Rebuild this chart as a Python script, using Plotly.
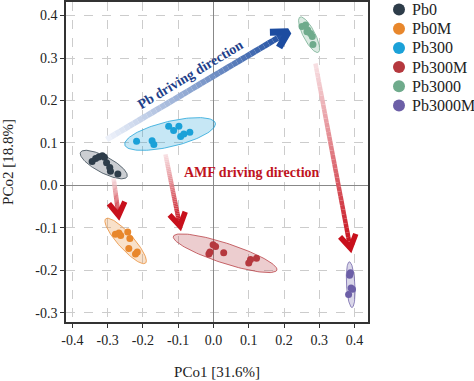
import numpy as np
import plotly.graph_objects as go

groups = ["Pb0", "Pb0M", "Pb300", "Pb300M", "Pb3000", "Pb3000M"]
colors = ["#2e3d4a", "#e8872c", "#1ba1d8", "#b5383e", "#6fab8c", "#6c5fa7"]

pb0_x = [-0.344, -0.334, -0.325, -0.315, -0.309, -0.303, -0.294, -0.292, -0.271]
pb0_y = [0.056, 0.063, 0.067, 0.070, 0.066, 0.053, 0.042, 0.033, 0.027]
pb0m_x = [-0.278, -0.268, -0.263, -0.243, -0.237, -0.240, -0.221, -0.216]
pb0m_y = [-0.115, -0.112, -0.118, -0.110, -0.125, -0.149, -0.162, -0.157]
pb300_x = [-0.218, -0.174, -0.169, -0.127, -0.113, -0.098, -0.093, -0.084, -0.067]
pb300_y = [0.104, 0.105, 0.096, 0.139, 0.129, 0.139, 0.115, 0.121, 0.125]
pb300m_x = [-0.001, 0.006, -0.010, -0.013, 0.029, 0.100, 0.105, 0.122]
pb300m_y = [-0.140, -0.144, -0.157, -0.162, -0.159, -0.183, -0.175, -0.172]
pb3000_x = [0.251, 0.261, 0.267, 0.275, 0.280, 0.282, 0.265]
pb3000_y = [0.374, 0.378, 0.366, 0.358, 0.351, 0.332, 0.362]
pb3000m_x = [0.388, 0.386, 0.390, 0.394, 0.383]
pb3000m_y = [-0.206, -0.212, -0.242, -0.245, -0.257]

xs = [pb0_x, pb0m_x, pb300_x, pb300m_x, pb3000_x, pb3000m_x]
ys = [pb0_y, pb0m_y, pb300_y, pb300m_y, pb3000_y, pb3000m_y]

# ellipse: centre x, centre y, semi-major, semi-minor, angle (deg, data space)
ell_cx = [-0.311, -0.249, -0.123, 0.033, 0.271, 0.389]
ell_cy = [0.049, -0.131, 0.121, -0.160, 0.355, -0.234]
ell_a = [0.072, 0.077, 0.131, 0.152, 0.049, 0.054]
ell_b = [0.020, 0.020, 0.030, 0.024, 0.016, 0.012]
ell_ang = [-23, -42, 11, -15, -57, -86]

# arrows: start x, start y, end x, end y
pb_arrow = [-0.303, 0.108, 0.212, 0.362]
amf_arrows = [
    [-0.283, 0.016, -0.269, -0.071],
    [-0.136, 0.073, -0.095, -0.096],
    [0.289, 0.287, 0.388, -0.148],
]

x_ticks = [-0.4, -0.3, -0.2, -0.1, 0.0, 0.1, 0.2, 0.3, 0.4]
x_ticktext = ["-0.4", "-0.3", "-0.2", "-0.1", "0.0", "0.1", "0.2", "0.3", "0.4"]
y_ticks = [-0.3, -0.2, -0.1, 0.0, 0.1, 0.2, 0.3, 0.4]
y_ticktext = ["-0.3", "-0.2", "-0.1", "0.0", "0.1", "0.2", "0.3", "0.4"]

XR = [-0.418, 0.438]
YR = [-0.322, 0.432]
W, H = 474, 381
ML, MR, MT, MB = 66, 106, 2, 59
PW, PH = W - ML - MR, H - MT - MB
SX = PW / (XR[1] - XR[0])
SY = PH / (YR[1] - YR[0])

FONT = "Liberation Serif"


def hex_rgb(h):
    h = h.lstrip("#")
    return tuple(int(h[i:i + 2], 16) for i in (0, 2, 4))


fig = go.Figure()

# ellipses
t = np.linspace(0, 2 * np.pi, 120)
for i, g in enumerate(groups):
    r, gg, b = hex_rgb(colors[i])
    th = np.deg2rad(ell_ang[i])
    ex = ell_cx[i] + ell_a[i] * np.cos(t) * np.cos(th) - ell_b[i] * np.sin(t) * np.sin(th)
    ey = ell_cy[i] + ell_a[i] * np.cos(t) * np.sin(th) + ell_b[i] * np.sin(t) * np.cos(th)
    fig.add_trace(go.Scatter(x=ex, y=ey, mode="lines", fill="toself",
                             fillcolor=f"rgba({r},{gg},{b},0.25)",
                             line=dict(color=f"rgba({r},{gg},{b},0.75)", width=1),
                             showlegend=False, hoverinfo="skip"))


def gradient_arrow(x0, y0, x1, y1, c0, c1, width, head_len, head_w):
    dxp = (x1 - x0) * SX
    dyp = (y1 - y0) * SY
    L = np.hypot(dxp, dyp)
    ux, uy = dxp / L, dyp / L
    n = 40
    fr = np.linspace(0, 1 - 2 / L, n + 1)
    for k in range(n):
        f = (k + 0.5) / n
        col = tuple(int(c0[j] + (c1[j] - c0[j]) * f) for j in range(3))
        fig.add_trace(go.Scatter(
            x=[x0 + (x1 - x0) * fr[k], x0 + (x1 - x0) * fr[k + 1]],
            y=[y0 + (y1 - y0) * fr[k], y0 + (y1 - y0) * fr[k + 1]],
            mode="lines", line=dict(color=f"rgb{col}", width=width),
            showlegend=False, hoverinfo="skip"))
    px, py = -uy, ux
    bx = -ux * head_len
    by = -uy * head_len
    a1 = (bx + px * head_w, by + py * head_w)
    a2 = (bx - px * head_w, by - py * head_w)
    hx = [x1 + a1[0] / SX, x1, x1 + a2[0] / SX]
    hy = [y1 + a1[1] / SY, y1, y1 + a2[1] / SY]
    col = f"rgb{tuple(c1)}"
    fig.add_trace(go.Scatter(x=hx, y=hy, mode="lines",
                             line=dict(color=col, width=width + 1),
                             showlegend=False, hoverinfo="skip"))


gradient_arrow(*pb_arrow, (240, 244, 252), (28, 76, 160), 6, 16, 9)
for a in amf_arrows:
    gradient_arrow(*a, (248, 225, 228), (200, 16, 28), 4.5, 13, 8)

# points
for i, g in enumerate(groups):
    fig.add_trace(go.Scatter(x=xs[i], y=ys[i], mode="markers", name=g,
                             marker=dict(color=colors[i], size=7), showlegend=False))

fig.add_annotation(x=-0.065, y=0.262, text="<b>Pb driving direction</b>",
                   showarrow=False, textangle=-31,
                   font=dict(family=FONT, size=14, color="#1f3f8a"))
fig.add_annotation(x=0.108, y=0.031, text="<b>AMF driving direction</b>",
                   showarrow=False,
                   font=dict(family=FONT, size=14, color="#c0141e"))

# manual legend (pixel layout in the right margin)
LEG_MX, LEG_TX, LEG_Y0, LEG_DY = 399, 410, 9.5, 19.2
for i, g in enumerate(groups):
    cyp = LEG_Y0 + i * LEG_DY
    xp = (LEG_MX - ML) / PW
    yp = 1 - (cyp - MT) / PH
    fig.add_shape(type="circle", xref="paper", yref="paper",
                  xsizemode="pixel", ysizemode="pixel",
                  xanchor=xp, yanchor=yp, x0=-6, x1=6, y0=-6, y1=6,
                  fillcolor=colors[i], line=dict(width=0))
    fig.add_annotation(xref="paper", yref="paper", x=(LEG_TX - ML) / PW, y=yp,
                       xanchor="left", yanchor="middle", showarrow=False,
                       text=g, font=dict(family=FONT, size=16, color="#222222"))

axis_common = dict(showline=True, mirror=True, linecolor="#333333", linewidth=1.5,
                   ticks="outside", ticklen=4, tickcolor="#333333",
                   showgrid=True, gridcolor="#cccccc", griddash="dash", gridwidth=1,
                   zeroline=True, zerolinecolor="#888888", zerolinewidth=1,
                   automargin=False,
                   tickfont=dict(family=FONT, size=14, color="#222222"))

fig.update_xaxes(range=XR, tickvals=x_ticks, ticktext=x_ticktext,
                 title=dict(text="PCo1 [31.6%]", font=dict(family=FONT, size=15, color="#222222"),
                            standoff=20),
                 **axis_common)
fig.update_yaxes(range=YR, tickvals=y_ticks, ticktext=y_ticktext,
                 title=dict(text="PCo2 [18.8%]", font=dict(family=FONT, size=15, color="#222222"),
                            standoff=22),
                 **axis_common)

fig.update_layout(
    width=W, height=H,
    margin=dict(l=ML, r=MR, t=MT, b=MB),
    plot_bgcolor="white", paper_bgcolor="white",
    showlegend=False,
)

fig.write_html("out.html", config={"displayModeBar": False},
               post_script="document.body.style.margin='0';document.body.style.overflow='hidden';")
